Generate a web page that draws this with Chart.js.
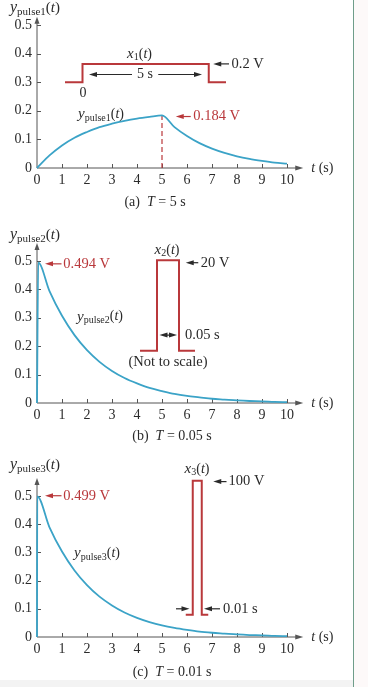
<!DOCTYPE html>
<html>
<head>
<meta charset="utf-8">
<script src="https://cdn.jsdelivr.net/npm/chart.js@4.4.1/dist/chart.umd.min.js"></script>
<style>
  body { margin: 0; background: #fff; width: 368px; height: 687px; position: relative; overflow: hidden; }
  canvas { position: absolute; left: 0; }
  #edge { position: absolute; left: 353px; top: 0; width: 1px; height: 687px; background: #6f9d8a; }
  #side { position: absolute; left: 354px; top: 0; width: 14px; height: 687px; background: #fdf9f9; }
  #foot { position: absolute; left: 0; top: 680px; width: 353px; height: 7px; background: #f3f3f3; }
</style>
</head>
<body>
<div id="foot"></div>
<canvas id="chartA" width="353" height="212" style="top:0px"></canvas>
<canvas id="chartB" width="353" height="235" style="top:212px"></canvas>
<canvas id="chartC" width="353" height="233" style="top:447px"></canvas>
<div id="edge"></div><div id="side"></div>
<script>
// tick values
var xTickVals = [0, 1, 2, 3, 4, 5, 6, 7, 8, 9, 10];
var yTickVals = [0, 0.1, 0.2, 0.3, 0.4, 0.5];

// (a) T = 5 s
var timeA = [0, 0.5, 1, 1.5, 2, 2.5, 3, 3.5, 4, 4.5, 5, 5.5, 6, 6.5, 7, 7.5, 8, 8.5, 9, 9.5, 10];
var outA  = [0, 0.044, 0.079, 0.106, 0.126, 0.143, 0.155, 0.165, 0.173, 0.179, 0.184,
             0.143, 0.112, 0.087, 0.068, 0.053, 0.041, 0.032, 0.025, 0.019, 0.015];
var pulseTimeA = [1.12, 1.82, 1.82, 6.87, 6.87, 7.56];
var pulseA     = [0.3, 0.3, 0.364, 0.364, 0.3, 0.3];
var dropTimeA = [5, 5];
var dropA     = [0, 0.184];

// (b) T = 0.05 s
var timeB = [0, 0.05, 0.5, 1, 1.5, 2, 2.5, 3, 3.5, 4, 4.5, 5, 5.5, 6, 6.5, 7, 7.5, 8, 8.5, 9, 9.5, 10];
var outB  = [0, 0.494, 0.394, 0.307, 0.239, 0.186, 0.145, 0.113, 0.088, 0.069, 0.053, 0.042,
             0.032, 0.025, 0.020, 0.015, 0.012, 0.009, 0.007, 0.006, 0.004, 0.003];
var pulseTimeB = [4.12, 4.8, 4.8, 5.68, 5.68, 6.32];
var pulseB     = [0.184, 0.184, 0.503, 0.503, 0.184, 0.184];

// (c) T = 0.01 s
var timeC = [0, 0.01, 0.5, 1, 1.5, 2, 2.5, 3, 3.5, 4, 4.5, 5, 5.5, 6, 6.5, 7, 7.5, 8, 8.5, 9, 9.5, 10];
var outC  = [0, 0.499, 0.389, 0.303, 0.236, 0.184, 0.143, 0.112, 0.087, 0.068, 0.053, 0.041,
             0.032, 0.025, 0.019, 0.015, 0.012, 0.009, 0.007, 0.006, 0.004, 0.003];
var pulseTimeC = [5.95, 6.23, 6.23, 6.59, 6.59, 6.85];
var pulseC     = [0.079, 0.079, 0.554, 0.554, 0.079, 0.079];

var BLUE = '#3ba3c7';
var RED = '#b9383b';
var INK = '#2a2a2a';
var AXIS = '#555';
var FAM = '"Liberation Serif", "DejaVu Serif", serif';
var R = '14px ' + FAM, I = 'italic 14px ' + FAM, S = '10px ' + FAM;
var RR = '14.5px ' + FAM, II = 'italic 15px ' + FAM;

function points(xs, ys) {
    return xs.map(function(x, i) { return {x: x, y: ys[i]}; });
}

function yLabel(n, big) {
    if (big) {
        return [['y', 'italic 16px ' + FAM], ['pulse' + n, '11px ' + FAM, 4],
                ['(', '15px ' + FAM], ['t', 'italic 15px ' + FAM], [')', '15px ' + FAM]];
    }
    return [['y', II], ['pulse' + n, S, 4], ['(', R], ['t', I], [')', R]];
}

function drawRich(ctx, parts, x, y, align, color) {
    var w = 0;
    parts.forEach(function(p) { ctx.font = p[1]; w += ctx.measureText(p[0]).width; });
    var cx = (align === 'center') ? x - w / 2 : x;
    ctx.textAlign = 'left';
    ctx.textBaseline = 'middle';
    ctx.fillStyle = color || INK;
    parts.forEach(function(p) {
        ctx.font = p[1];
        ctx.fillText(p[0], cx, y + (p[2] || 0));
        cx += ctx.measureText(p[0]).width;
    });
}

function head(ctx, x, y, dir, color, vertical) {
    ctx.fillStyle = color;
    ctx.beginPath();
    if (vertical) {
        ctx.moveTo(x, y);
        ctx.lineTo(x - 2.5, y + 7);
        ctx.lineTo(x + 2.5, y + 7);
    } else {
        ctx.moveTo(x, y);
        ctx.lineTo(x - dir * 8, y - 2.5);
        ctx.lineTo(x - dir * 8, y + 2.5);
    }
    ctx.closePath();
    ctx.fill();
}

var overlay = {
    id: 'overlay',
    beforeDatasetsDraw: function(chart, args, opts) {
        var ctx = chart.ctx, xs = chart.scales.x, ys = chart.scales.y;
        var x0 = xs.getPixelForValue(0), y0 = ys.getPixelForValue(0);
        var xEnd = xs.getPixelForValue(opts.xArrow), yEnd = ys.getPixelForValue(opts.yArrow);
        ctx.save();
        ctx.strokeStyle = AXIS;
        ctx.lineWidth = 1;
        ctx.beginPath();
        ctx.moveTo(x0, y0); ctx.lineTo(xEnd - 4, y0);
        ctx.moveTo(x0, y0); ctx.lineTo(x0, yEnd + 4);
        xTickVals.slice(1).forEach(function(v) {
            var px = Math.round(xs.getPixelForValue(v)) + 0.5;
            ctx.moveTo(px, y0); ctx.lineTo(px, y0 - 4);
        });
        yTickVals.slice(1).forEach(function(v) {
            var py = Math.round(ys.getPixelForValue(v)) + 0.5;
            ctx.moveTo(x0, py); ctx.lineTo(x0 + 4, py);
        });
        ctx.stroke();
        head(ctx, xEnd, y0, 1, AXIS);
        head(ctx, x0, yEnd, 0, AXIS, true);
        ctx.restore();
    },
    afterDatasetsDraw: function(chart, args, opts) {
        var ctx = chart.ctx, xs = chart.scales.x, ys = chart.scales.y;
        ctx.save();
        opts.notes.forEach(function(n) {
            var px = xs.getPixelForValue(n.x), py = ys.getPixelForValue(n.y);
            if (n.kind === 'text') {
                drawRich(ctx, n.parts, px, py, n.align, n.color);
            } else if (n.kind === 'arrow') {
                var px2 = xs.getPixelForValue(n.x2);
                var dir = px2 > px ? 1 : -1;
                ctx.strokeStyle = n.color;
                ctx.lineWidth = 1.2;
                ctx.beginPath();
                ctx.moveTo(px, py); ctx.lineTo(px2 - dir * 6, py);
                ctx.stroke();
                head(ctx, px2, py, dir, n.color);
            }
        });
        // y-axis title above the axis
        drawRich(ctx, yLabel(opts.n, true), 10, opts.titleY, 'left', INK);
        // x-axis unit
        drawRich(ctx, [['t', I], [' (s)', R]], xs.getPixelForValue(opts.xArrow) + 8,
                 ys.getPixelForValue(0), 'left', INK);
        ctx.restore();
    }
};

function makeChart(id, n, curveT, curveY, pulseT, pulseY, topPad, bottomH, xArrow, yArrow, titleY, notes, extra) {
    var datasets = [
        { data: points(curveT, curveY), borderColor: BLUE, borderWidth: 1.8,
          pointRadius: 0, cubicInterpolationMode: 'monotone', clip: false },
        { data: points(pulseT, pulseY), borderColor: RED, borderWidth: 2,
          pointRadius: 0, tension: 0, clip: false }
    ];
    if (extra) datasets.push(extra);
    return new Chart(document.getElementById(id), {
        type: 'line',
        data: { datasets: datasets },
        options: {
            responsive: false,
            animation: false,
            events: [],
            layout: { padding: { top: topPad, right: 66, left: 0, bottom: 0 } },
            plugins: {
                legend: { display: false },
                tooltip: { enabled: false },
                overlay: { n: n, xArrow: xArrow, yArrow: yArrow, titleY: titleY, notes: notes }
            },
            scales: {
                x: {
                    type: 'linear', min: 0, max: 10,
                    afterBuildTicks: function(s) { s.ticks = xTickVals.map(function(v) { return {value: v}; }); },
                    afterFit: function(s) { s.height = bottomH; },
                    grid: { display: false, drawTicks: false },
                    border: { display: false },
                    ticks: { color: INK, padding: 4, font: { family: FAM, size: 14 }, maxRotation: 0 }
                },
                y: {
                    min: 0, max: 0.5,
                    afterBuildTicks: function(s) { s.ticks = yTickVals.map(function(v) { return {value: v}; }); },
                    afterFit: function(s) { s.width = 37; },
                    grid: { display: false, drawTicks: false },
                    border: { display: false },
                    ticks: { color: INK, padding: 5, font: { family: FAM, size: 14 } }
                }
            }
        },
        plugins: [overlay]
    });
}

function txt(x, y, parts, align, color) { return {kind: 'text', x: x, y: y, parts: parts, align: align, color: color}; }
function arr(x, y, x2, color) { return {kind: 'arrow', x: x, y: y, x2: x2, color: color || INK}; }

makeChart('chartA', 1, timeA, outA, pulseTimeA, pulseA, 25, 44, 10.65, 0.529, 8, [
    txt(4.1, 0.397, [['x', 'italic 15px ' + FAM], ['1', S, 3], ['(', R], ['t', I], [')', R]], 'center'),
    arr(3.8, 0.327, 2.08), arr(4.85, 0.327, 6.6),
    txt(4.32, 0.327, [['5 s', R]], 'center'),
    txt(1.84, 0.26, [['0', R]], 'center'),
    arr(7.68, 0.364, 7.05), txt(7.78, 0.364, [['0.2 V', RR]], 'left'),
    txt(2.56, 0.187, yLabel(1), 'center'),
    arr(6.15, 0.18, 5.55, RED), txt(6.25, 0.18, [['0.184 V', RR]], 'left', RED),
    txt(4.72, -0.119, [['(a)  ', R], ['T', I], [' = 5 s', R]], 'center')
], { data: points(dropTimeA, dropA), borderColor: RED, borderWidth: 1.2, borderDash: [5, 3],
     pointRadius: 0, tension: 0 });

makeChart('chartB', 2, timeB, outB, pulseTimeB, pulseB, 49, 44, 10.65, 0.563, 23, [
    txt(5.2, 0.538, [['x', 'italic 15px ' + FAM], ['2', S, 3], ['(', R], ['t', I], [')', R]], 'center'),
    arr(6.45, 0.494, 5.95), txt(6.55, 0.494, [['20 V', RR]], 'left'),
    arr(5.24, 0.239, 4.9), arr(5.24, 0.239, 5.6),
    txt(5.92, 0.239, [['0.05 s', RR]], 'left'),
    txt(5.24, 0.145, [['(Not to scale)', RR]], 'center'),
    txt(2.52, 0.304, yLabel(2), 'center'),
    arr(0.98, 0.49, 0.32, RED), txt(1.05, 0.49, [['0.494 V', RR]], 'left', RED),
    txt(5.4, -0.118, [['(b)  ', R], ['T', I], [' = 0.05 s', R]], 'center')
]);

makeChart('chartC', 3, timeC, outC, pulseTimeC, pulseC, 49, 43, 10.65, 0.564, 18, [
    txt(6.4, 0.596, [['x', 'italic 15px ' + FAM], ['3', S, 3], ['(', R], ['t', I], [')', R]], 'center'),
    arr(7.58, 0.551, 7.05), txt(7.66, 0.551, [['100 V', RR]], 'left'),
    arr(5.56, 0.1, 6.1), arr(7.32, 0.1, 6.68),
    txt(7.44, 0.1, [['0.01 s', RR]], 'left'),
    txt(2.4, 0.297, yLabel(3), 'center'),
    arr(0.98, 0.501, 0.32, RED), txt(1.05, 0.501, [['0.499 V', RR]], 'left', RED),
    txt(5.4, -0.124, [['(c)  ', R], ['T', I], [' = 0.01 s', R]], 'center')
]);
</script>
</body>
</html>
